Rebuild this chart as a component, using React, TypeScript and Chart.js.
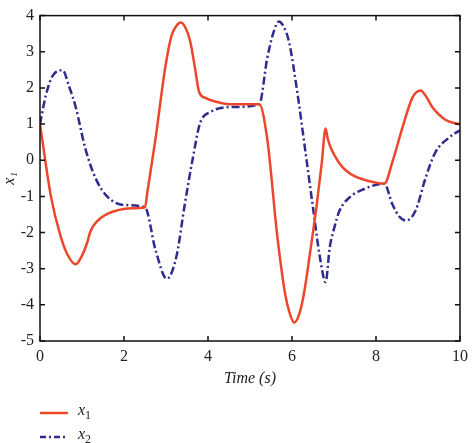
import { useEffect, useRef } from "react";
import { Chart, registerables } from "chart.js";

Chart.register(...registerables);

// time samples and values
const t1 = [0, 0.26, 0.49, 0.65, 0.85, 1.0, 1.12, 1.2, 1.48, 1.86, 2.2, 2.5,
  2.56, 2.75, 2.98, 3.13, 3.25, 3.35, 3.47, 3.58, 3.69, 3.79, 3.95, 4.07, 4.54, 5.22,
  5.41, 5.65, 5.84, 5.95, 6.05, 6.16, 6.28, 6.43, 6.59, 6.71, 6.8, 6.85, 6.92, 7.02, 7.15, 7.3, 7.5, 7.8, 8.2,
  8.39, 8.64, 8.87, 9.06, 9.2, 9.34, 9.65, 10];
const x1 = [1.0, -1.0, -2.1, -2.6, -2.88, -2.64, -2.29, -1.97, -1.57, -1.38, -1.33, -1.3,
  -0.85, 0.59, 2.55, 3.44, 3.72, 3.81, 3.65, 3.27, 2.55, 1.88, 1.72, 1.66, 1.55, 1.55,
  0.59, -2.1, -3.72, -4.25, -4.49, -4.3, -3.72, -2.56, -1.22, -0.06, 0.88, 0.6, 0.35, 0.12, -0.12, -0.3, -0.45, -0.57, -0.65,
  -0.05, 0.94, 1.74, 1.93, 1.75, 1.47, 1.12, 0.99];

const t2 = [0, 0.14, 0.3, 0.54, 0.69, 0.85, 1.08, 1.32, 1.62, 2.02, 2.5,
  2.75, 3.02, 3.25, 3.45, 3.65, 3.81, 4.07, 4.54, 5.22,
  5.41, 5.55, 5.69, 5.8, 5.93, 6.12, 6.31, 6.51, 6.66, 6.8, 6.9, 6.99, 7.13, 7.37, 7.69, 8.2,
  8.39, 8.55, 8.71, 8.94, 9.18, 9.41, 9.72, 10];
const x2 = [1.0, 1.8, 2.33, 2.49, 2.05, 1.47, 0.32, -0.49, -1.03, -1.24, -1.3,
  -2.48, -3.28, -2.65, -1.2, 0.13, 1.02, 1.34, 1.47, 1.55,
  2.82, 3.5, 3.84, 3.7, 3.27, 1.93, 0.32, -1.4, -2.65, -3.37, -2.4, -1.94, -1.4, -1.03, -0.81, -0.65,
  -1.22, -1.55, -1.67, -1.4, -0.49, 0.21, 0.61, 0.83];

const RED = "#EC462B";
const BLUE = "#2E2C8E";
const SERIF = "'Liberation Serif', 'DejaVu Serif', serif";

// box around the plot with inward ticks on all four sides
const frame = {
  id: "frame",
  afterDraw(chart: any) {
    const { ctx, chartArea: a, scales } = chart;
    const len = 5;
    ctx.save();
    ctx.strokeStyle = "#111";
    ctx.lineWidth = 1.5;
    ctx.strokeRect(a.left, a.top, a.right - a.left, a.bottom - a.top);
    ctx.beginPath();
    scales.x.ticks.forEach((t: any) => {
      const px = scales.x.getPixelForValue(t.value);
      ctx.moveTo(px, a.bottom);
      ctx.lineTo(px, a.bottom - len);
      ctx.moveTo(px, a.top);
      ctx.lineTo(px, a.top + len);
    });
    scales.y.ticks.forEach((t: any) => {
      const py = scales.y.getPixelForValue(t.value);
      ctx.moveTo(a.left, py);
      ctx.lineTo(a.left + len, py);
      ctx.moveTo(a.right, py);
      ctx.lineTo(a.right - len, py);
    });
    ctx.stroke();
    ctx.restore();
  },
};

const App = () => {
  const chartRef = useRef<HTMLCanvasElement | null>(null);

  useEffect(() => {
    if (!chartRef.current) return;
    const chart = new Chart(chartRef.current, {
      type: "line",
      data: {
        datasets: [
          {
            label: "x1",
            data: t1.map((t, i) => ({ x: t, y: x1[i] })),
            borderColor: RED,
            borderWidth: 2.5,
            pointRadius: 0,
            cubicInterpolationMode: "monotone",
          },
          {
            label: "x2",
            data: t2.map((t, i) => ({ x: t, y: x2[i] })),
            borderColor: BLUE,
            borderWidth: 2.5,
            borderDash: [8, 3, 2, 3],
            pointRadius: 0,
            cubicInterpolationMode: "monotone",
          },
        ],
      },
      options: {
        animation: false,
        responsive: true,
        maintainAspectRatio: false,
        layout: { padding: { left: 0, right: 9, top: 6, bottom: 51 } },
        plugins: { legend: { display: false }, tooltip: { enabled: false } },
        scales: {
          x: {
            type: "linear",
            min: 0,
            max: 10,
            afterFit: (s: any) => { s.height = 51; },
            ticks: { stepSize: 2, padding: 6, color: "#222", font: { family: SERIF, size: 16 } },
            grid: { display: false, drawTicks: false },
            border: { display: false },
            title: {
              display: true,
              text: "Time (s)",
              color: "#222",
              font: { family: SERIF, size: 16, style: "italic" },
            },
          },
          y: {
            type: "linear",
            min: -5,
            max: 4,
            afterFit: (s: any) => { s.width = 40; },
            ticks: { stepSize: 1, padding: 6, color: "#222", font: { family: SERIF, size: 16 } },
            grid: { display: false, drawTicks: false },
            border: { display: false },
            title: {
              display: true,
              text: "x₁",
              color: "#222",
              padding: { top: 0, bottom: 0 },
              font: { family: SERIF, size: 16, style: "italic" },
            },
          },
        },
      },
      plugins: [frame],
    });
    return () => {
      chart.destroy();
    };
  }, []);

  const legendItem = (top: number, color: string, dash: string | undefined, sub: string) => (
    <div style={{ position: "absolute", left: 40, top, height: 20, display: "flex", alignItems: "center" }}>
      <svg width={28} height={6} style={{ display: "block" }}>
        <line x1={0} y1={3} x2={28} y2={3} stroke={color} strokeWidth={2.5} strokeDasharray={dash} />
      </svg>
      <span style={{ marginLeft: 10, fontFamily: SERIF, fontSize: 16, color: "#222", lineHeight: "20px" }}>
        <i>x</i>
        <sub style={{ fontSize: 12 }}>{sub}</sub>
      </span>
    </div>
  );

  return (
    <div style={{ position: "fixed", left: 0, top: 0, width: 474, height: 443, background: "#fff" }}>
      <canvas ref={chartRef} />
      {legendItem(403, RED, undefined, "1")}
      {legendItem(427, BLUE, "6 3 2 3", "2")}
    </div>
  );
};

export default App;
